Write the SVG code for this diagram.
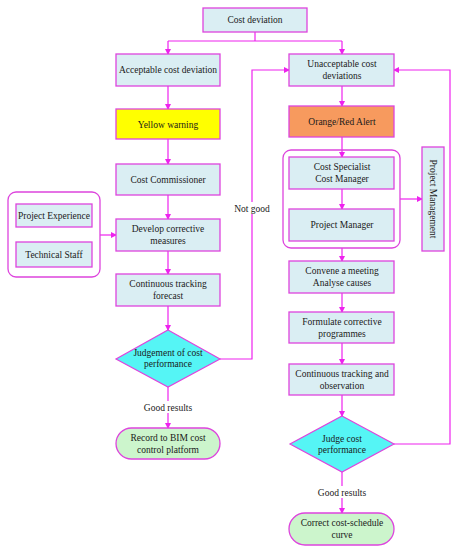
<svg xmlns="http://www.w3.org/2000/svg" width="474" height="553" viewBox="0 0 474 553">
<defs>
<marker id="ah" markerWidth="6" markerHeight="6" refX="5" refY="3" orient="auto" markerUnits="userSpaceOnUse">
<path d="M0,0 L6,3 L0,6 Z" fill="#ee22ee"/>
</marker>
<style>
.box{fill:#daeef3;stroke:#dd44dd;stroke-width:1.3}
.grp{fill:none;stroke:#dd44dd;stroke-width:1.3}
.dia{fill:#55f5f5;stroke:#dd44dd;stroke-width:1.2}
.term{fill:#ccf5cc;stroke:#dd44dd;stroke-width:1.3}
.ln{fill:none;stroke:#ee22ee;stroke-width:1.2}
.arr{fill:none;stroke:#ee22ee;stroke-width:1.2;marker-end:url(#ah)}
text{font-size:9.5px;fill:#1a1a1a;text-anchor:middle}
.lbl{fill:#fff;stroke:none}
</style>
</defs>
<rect width="474" height="553" fill="#fff"/>
<g font-family="'Liberation Serif', 'DejaVu Serif', 'Times New Roman', serif">
<g id="connectors">
<path class="ln" d="M255,32 V41 M168,41 H342"/>
<path class="arr" d="M168,41 V54"/>
<path class="arr" d="M342,41 V54"/>
<path class="arr" d="M168,86 V109"/>
<path class="arr" d="M342,86 V106"/>
<path class="arr" d="M168,139 V164"/>
<path class="arr" d="M168,195 V219"/>
<path class="arr" d="M100,235 H116"/>
<path class="arr" d="M168,251 V274"/>
<path class="arr" d="M168,306 V330"/>
<path class="arr" d="M168,387 V428"/>
<path class="arr" d="M220,359 H252 V70 H289"/>
<path class="arr" d="M342,137 V157"/>
<path class="arr" d="M342,189 V209"/>
<path class="arr" d="M400,199 H422"/>
<path class="arr" d="M342,248 V261"/>
<path class="arr" d="M342,293 V312"/>
<path class="arr" d="M342,343 V364"/>
<path class="arr" d="M342,395 V416"/>
<path class="arr" d="M342,472 V513"/>
<path class="arr" d="M394,444 H450 V70 H394"/>
<rect class="lbl" x="233" y="202" width="38" height="12"/>
<text x="252" y="212">Not good</text>
<rect class="lbl" x="143" y="401" width="50" height="12"/>
<text x="168" y="411">Good results</text>
<rect class="lbl" x="317" y="486" width="50" height="12"/>
<text x="342" y="496">Good results</text>
</g>
<g id="cost-deviation"><rect class="box" x="203" y="8" width="104" height="24"/><text x="255" y="23">Cost deviation</text></g>
<g id="acceptable"><rect class="box" x="116" y="54" width="104" height="32"/><text x="168" y="73">Acceptable cost deviation</text></g>
<g id="unacceptable"><rect class="box" x="289" y="54" width="105" height="32"/><text x="342" y="67">Unacceptable cost</text><text x="342" y="79">deviations</text></g>
<g id="yellow"><rect x="116" y="109" width="104" height="30" fill="#ffff00" stroke="#dd44dd" stroke-width="1.3"/><text x="168" y="128">Yellow warning</text></g>
<g id="orange"><rect x="289" y="106" width="105" height="31" fill="#f79a5e" stroke="#dd44dd" stroke-width="1.3"/><text x="342" y="125">Orange/Red Alert</text></g>
<g id="commissioner"><rect class="box" x="116" y="164" width="104" height="31"/><text x="168" y="183">Cost Commissioner</text></g>
<g id="support-group"><rect class="grp" x="8" y="192" width="92" height="85" rx="8"/>
<g id="project-experience"><rect class="box" x="16" y="204" width="76" height="23"/><text x="54" y="219">Project Experience</text></g>
<g id="technical-staff"><rect class="box" x="16" y="242" width="76" height="25"/><text x="54" y="258">Technical Staff</text></g>
</g>
<g id="develop"><rect class="box" x="116" y="219" width="104" height="32"/><text x="168" y="232">Develop corrective</text><text x="168" y="244">measures</text></g>
<g id="tracking-forecast"><rect class="box" x="116" y="274" width="104" height="32"/><text x="168" y="287">Continuous tracking</text><text x="168" y="299">forecast</text></g>
<g id="judgement"><polygon class="dia" points="168,330 220,359 168,387 116,359"/><text x="168" y="356">Judgement of cost</text><text x="168" y="367">performance</text></g>
<g id="record"><rect class="term" x="116" y="428" width="104" height="31" rx="15.5"/><text x="168" y="441">Record to BIM cost</text><text x="168" y="453">control platform</text></g>
<g id="managers-group"><rect class="grp" x="283" y="150" width="117" height="98" rx="8"/>
<g id="cost-specialist"><rect class="box" x="289" y="157" width="105" height="32"/><text x="342" y="170">Cost Specialist</text><text x="342" y="182">Cost Manager</text></g>
<g id="project-manager"><rect class="box" x="289" y="209" width="105" height="32"/><text x="342" y="228">Project Manager</text></g>
</g>
<g id="project-management"><rect class="box" x="422" y="147" width="22" height="104"/><text transform="translate(433,199) rotate(90)" x="0" y="3.5">Project Management</text></g>
<g id="convene"><rect class="box" x="289" y="261" width="105" height="32"/><text x="342" y="274">Convene a meeting</text><text x="342" y="286">Analyse causes</text></g>
<g id="formulate"><rect class="box" x="289" y="312" width="105" height="31"/><text x="342" y="325">Formulate corrective</text><text x="342" y="337">programmes</text></g>
<g id="tracking-observation"><rect class="box" x="289" y="364" width="105" height="31"/><text x="342" y="377">Continuous tracking and</text><text x="342" y="389">observation</text></g>
<g id="judge"><polygon class="dia" points="342,416 394,444 342,472 290,444"/><text x="342" y="442">Judge cost</text><text x="342" y="453">performance</text></g>
<g id="correct"><rect class="term" x="289" y="513" width="105" height="32" rx="16"/><text x="342" y="526">Correct cost-schedule</text><text x="342" y="538">curve</text></g>
</g>
</svg>
